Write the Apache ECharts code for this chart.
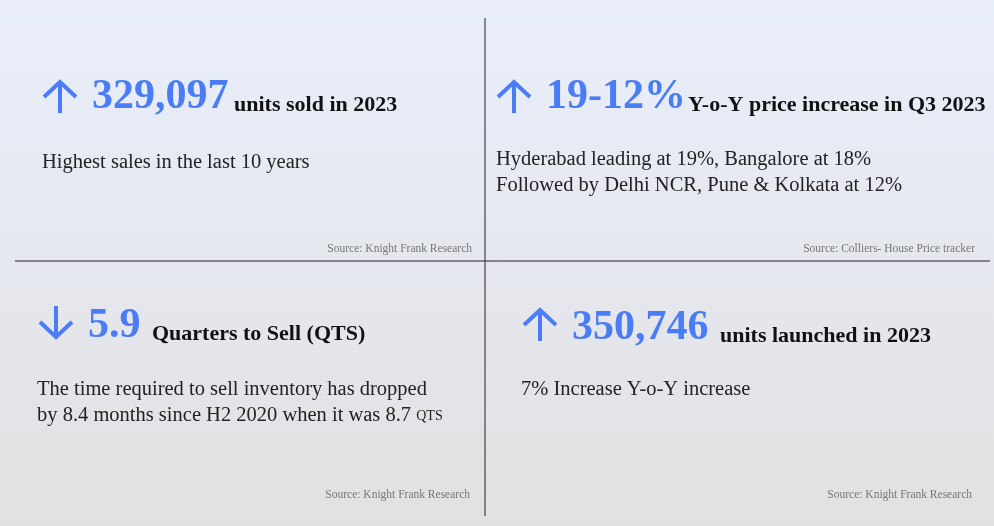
<!DOCTYPE html>
<html><head><meta charset="utf-8">
<script src="https://cdn.jsdelivr.net/npm/echarts@6/dist/echarts.min.js"></script>
<style>html,body{margin:0;padding:0;}#c{width:994px;height:526px;}</style>
</head><body><div id="c"></div>
<script>
var figures = ['329,097', '19-12%', '5.9', '350,746'];
var directions = ['up', 'up', 'down', 'up'];
var labels = ['units sold in 2023', 'Y-o-Y price increase in Q3 2023', 'Quarters to Sell (QTS)', 'units launched in 2023'];
var notes = [
  ['Highest sales in the last 10 years'],
  ['Hyderabad leading at 19%, Bangalore at 18%', 'Followed by Delhi NCR, Pune & Kolkata at 12%'],
  ['The time required to sell inventory has dropped', 'by 8.4 months since H2 2020 when it was 8.7 {s|QTS}'],
  ['7% Increase Y-o-Y increase']
];
var sources = ['Source: Knight Frank Research', 'Source: Colliers- House Price tracker', 'Source: Knight Frank Research', 'Source: Knight Frank Research'];

var FONT = '"Liberation Serif", "DejaVu Serif", serif';
var BLUE = '#4a7cf6';
var L = [
  {ax: 44, ay: 82, nx: 92, ny: 97, lx: 234, sx: 42, sy: 163, srcx: 472, srcy: 249},
  {ax: 498, ay: 82, nx: 546, ny: 97, lx: 688, sx: 496, sy: 160, srcx: 975, srcy: 249},
  {ax: 40, ay: 306, nx: 88, ny: 326, lx: 152, sx: 37, sy: 390, srcx: 470, srcy: 495},
  {ax: 524, ay: 310, nx: 572, ny: 328, lx: 720, sx: 521, sy: 390, srcx: 972, srcy: 495}
];
var g = [];
g.push({type:'rect', shape:{x:0,y:0,width:994,height:526}, z:-1,
  style:{fill:new echarts.graphic.LinearGradient(0,0,0,1,[{offset:0,color:'#e9eefb'},{offset:1,color:'#e1e1e1'}])}});
g.push({type:'line', shape:{x1:485,y1:18,x2:485,y2:516}, style:{stroke:'#222',lineWidth:1}});
g.push({type:'line', shape:{x1:15,y1:261,x2:990,y2:261}, style:{stroke:'#222',lineWidth:1}});
figures.forEach(function(f,i){
  var p = L[i], w = 32, h = 31, cx = p.ax + w/2;
  var up = directions[i] === 'up';
  var tip = up ? p.ay : p.ay + h, tail = up ? p.ay + h : p.ay, d = up ? 15 : -15;
  g.push({type:'line', shape:{x1:cx,y1:tip,x2:cx,y2:tail}, style:{stroke:BLUE,lineWidth:4}});
  g.push({type:'polyline', shape:{points:[[p.ax,tip+d],[cx,tip],[p.ax+w,tip+d]]}, style:{stroke:BLUE,lineWidth:4,fill:null}});
  g.push({type:'text', x:p.nx, y:p.ny, style:{text:f, font:'bold 42px '+FONT, fill:BLUE, verticalAlign:'middle'}});
  g.push({type:'text', x:p.lx, y:p.ny+8, style:{text:labels[i], font:'bold 22px '+FONT, fill:'#111', verticalAlign:'middle'}});
  notes[i].forEach(function(n,k){
    g.push({type:'text', x:p.sx, y:p.sy + k*26, style:{text:n, font:'20.5px '+FONT, fill:'#222', verticalAlign:'middle',
      rich:{s:{font:'14px '+FONT, fill:'#222'}}}});
  });
  g.push({type:'text', x:p.srcx, y:p.srcy, style:{text:sources[i], font:'11.5px '+FONT, fill:'#777', align:'right', verticalAlign:'middle'}});
});
var chart = echarts.init(document.getElementById('c'));
chart.setOption({graphic: g});
</script></body></html>
